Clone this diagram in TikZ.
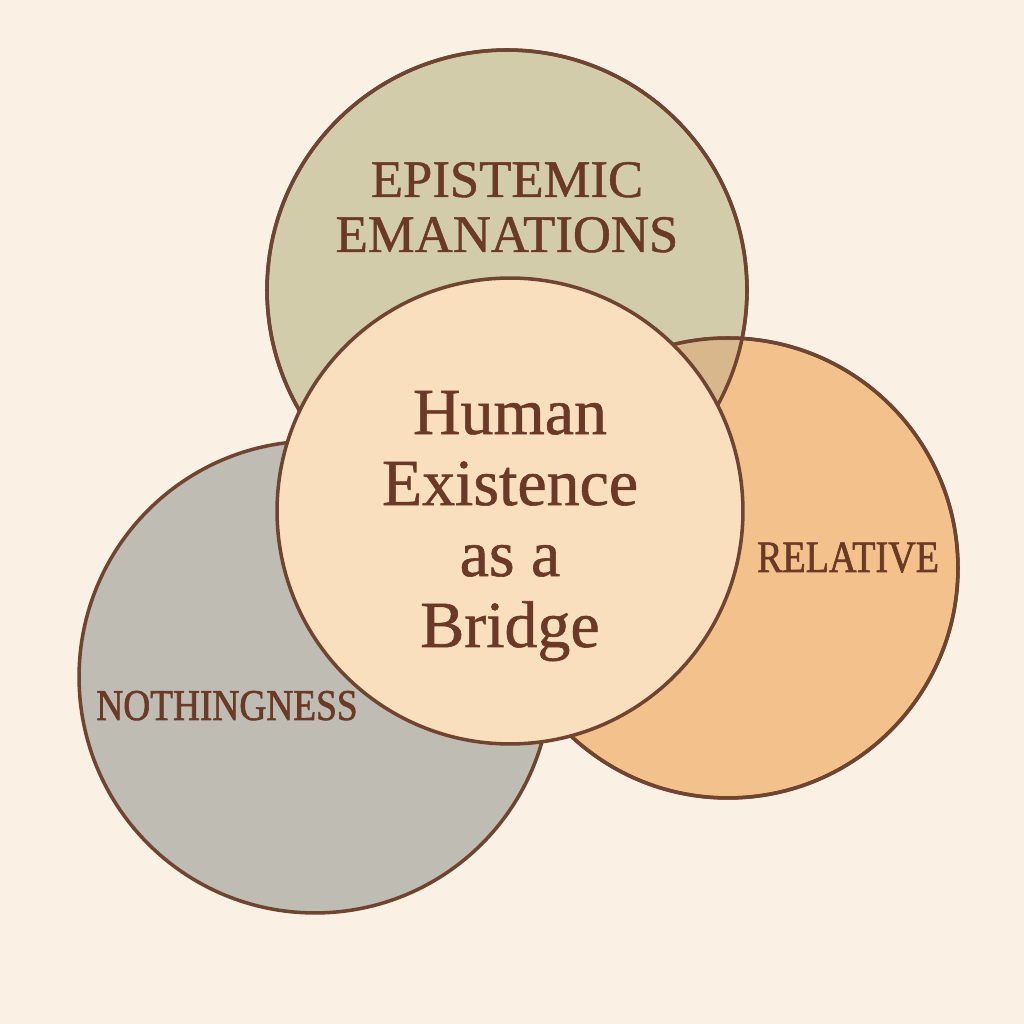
\documentclass[tikz,border=0pt]{standalone}
\usepackage{fontspec}
\setmainfont[FakeBold=0.9]{Liberation Serif}
\newfontfamily\narrowserif[FakeStretch=0.85,FakeBold=1.4]{Liberation Serif}
\usetikzlibrary{backgrounds}
\definecolor{paper}{HTML}{FAF1E4}
\definecolor{ink}{HTML}{6B3A26}
\definecolor{rim}{HTML}{6F4430}
\definecolor{sage}{HTML}{D3CCAB}
\definecolor{peach}{HTML}{F2C18C}
\definecolor{mixed}{HTML}{D9B78D}
\definecolor{stone}{HTML}{BEBCB3}
\definecolor{cream}{HTML}{F9DFBD}
\tikzset{
  ring/.style={circle, draw=rim, line width=2pt, inner sep=0pt},
  word/.style={text=ink, align=center, anchor=base, inner sep=0pt}
}

\begin{document}
\begin{tikzpicture}[x=0.02cm,y=0.02cm]
		\useasboundingbox (0,0) rectangle (1024,1024);
		\node(epi) [ring, fill=sage, minimum size=9.6cm] at (507,734) {};
		\node(rel) [ring, fill=peach, minimum size=9.2cm] at (728,456) {};
		\begin{scope}
		\clip (epi.center) circle (240);
		\fill[mixed] (rel.center) circle (230);
		\end{scope}
		\draw[rim, line width=2pt] (epi.center) circle (240);
		\draw[rim, line width=2pt] (rel.center) circle (230);
		\node(noth) [ring, fill=stone, minimum size=9.44cm] at (315,347) {};
		\node(hum) [ring, fill=cream, minimum size=9.32cm] at (510,513) {};
		
		\node(t1) [word, font=\fontsize{30}{31.3}\selectfont] at (507,772) {EPISTEMIC\\EMANATIONS};
		\node(t2) [word, font=\fontsize{37.5}{40.4}\selectfont] at (510,377) {Human\\Existence\\as a\\Bridge};
		\node(t3) [word, font=\narrowserif\fontsize{25.5}{26}\selectfont] at (848,452) {RELATIVE};
		\node(t4) [word, font=\narrowserif\fontsize{25}{26}\selectfont] at (227,304) {NOTHINGNESS};
		
		\begin{scope}[on background layer]
		\fill[paper] (0,0) rectangle (1024,1024);
		\end{scope}
		\end{tikzpicture}
\end{document}
